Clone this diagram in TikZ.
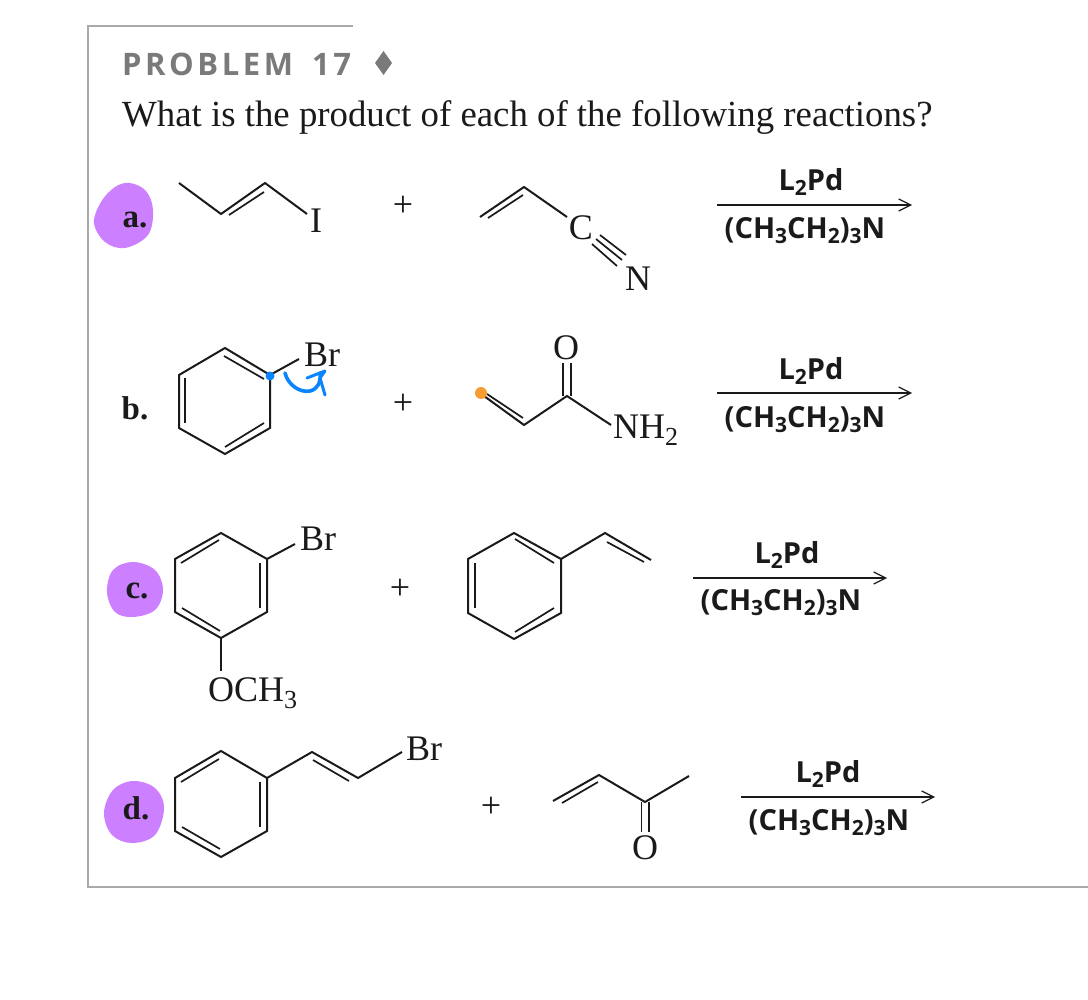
\documentclass[tikz,border=0pt]{standalone}
\usepackage{fontspec}
\setmainfont{Liberation Serif}
\newfontfamily\rxfont{Open Sans}
\newfontfamily\headfont[LetterSpace=11.5]{Open Sans}
\usetikzlibrary{arrows.meta}
\definecolor{blob}{HTML}{CC80FF}
\definecolor{frame}{HTML}{A9A9A9}
\definecolor{headgray}{HTML}{7A7A7A}
\definecolor{ink}{HTML}{1A1A1A}
\definecolor{penblue}{HTML}{0A84FF}
\definecolor{dotor}{HTML}{F79C33}
\newcommand{\atsub}[1]{\raisebox{-7pt}{\fontsize{26}{26}\selectfont #1}}
\newcommand{\rxsub}[1]{\raisebox{-5pt}{\fontsize{21}{21}\selectfont #1}}
\tikzset{
  bond/.style={draw=ink,line width=2pt,line join=miter},
  ibond/.style={draw=ink,line width=1.7pt},
  atom/.style={inner sep=0pt,text=ink,font=\fontsize{36}{36}\selectfont},
  sublabel/.style={inner sep=0pt,text=ink,font=\fontsize{33}{33}\selectfont\bfseries},
  plus/.style={inner sep=0pt,text=ink,font=\fontsize{36}{36}\selectfont},
  rx/.style={inner sep=0pt,text=ink,font=\fontsize{29}{29}\selectfont\rxfont\bfseries},
  rxarrow/.style={draw=ink,line width=1.6pt,-{Straight Barb[length=12pt,width=12pt,line width=1.2pt]}},
  blobfill/.style={fill=blob,draw=none}
}
\begin{document}
\begin{tikzpicture}[x=1pt,y=-1pt]
\useasboundingbox (0,0) rectangle (1088,1000);
% frame
\draw[draw=frame,line width=2pt] (353,26.5) -- (88,26.5) -- (88,887) -- (1088,887);
% heading
\node[anchor=west,inner sep=0pt,text=headgray,font=\fontsize{31}{31}\selectfont\headfont\bfseries] (head) at (122,64) {PROBLEM\hspace{19pt}17};
\fill[headgray] (383.5,51) -- (392,63) -- (383.5,75) -- (375,63) -- cycle;
\node[anchor=west,inner sep=0pt,text=ink,font=\fontsize{36.8}{36.8}\selectfont] (question) at (122,118) {What is the product of each of the following reactions?};
% blobs
\fill[blobfill] plot[smooth cycle,tension=0.6] coordinates {(115,187)(130,183)(146,191)(153,210)(148,235)(125,248)(105,242)(94,223)(101,202)};
\fill[blobfill] plot[smooth cycle,tension=0.6] coordinates {(133,562)(155,570)(163,590)(155,610)(133,617)(115,612)(107,592)(113,570)};
\fill[blobfill] plot[smooth cycle,tension=0.6] coordinates {(133,781)(155,788)(164,808)(155,835)(132,843)(112,835)(104,813)(113,790)};
% labels
\node[sublabel] (la) at (135,220) {a.};
\node[sublabel] (lb) at (135,408) {b.};
\node[sublabel] (lc) at (137,591) {c.};
\node[sublabel] (ld) at (136,808) {d.};
% pluses
\node[plus] (pa) at (403,206) {+};
\node[plus] (pb) at (403,404) {+};
\node[plus] (pc) at (400,589) {+};
\node[plus] (pd) at (491,807) {+};
% a left
\draw[bond] (179,183) -- (221,214) -- (265,183) -- (307,214);
\draw[ibond] (229,215) -- (264,192);
\node[atom] (I) at (316,221) {I};
% a right
\draw[bond] (480,217) -- (524,187) -- (567,217);
\draw[ibond] (488,218) -- (523,195);
\node[atom] (C) at (581,228) {C};
\draw[ibond] (600,235) -- (626,255);
\draw[ibond] (596,239) -- (622,260);
\draw[ibond] (592,244) -- (617,266);
\node[atom] (N) at (638,279) {N};
% b ring
\draw[bond] (225,348) -- (270,375) -- (270,428) -- (225,454) -- (179,428) -- (179,375) -- cycle;
\draw[ibond] (224,356) -- (264,379);
\draw[ibond] (185,378) -- (185,423);
\draw[ibond] (225,447) -- (264,423);
\draw[bond] (270,375) -- (299,359);
\node[atom] (Brb) at (322,355) {Br};
\fill[penblue] (270,376) circle (4.5);
\draw[penblue,line width=3.6pt,line cap=round,line join=round] (285,373) .. controls (288,385) and (300,393) .. (310,391) .. controls (318,389) and (321,382) .. (320,373);
\draw[penblue,line width=3pt,line cap=round,line join=round] (307,378) -- (325,371) -- (320,378) -- (325,395);
% b right
\draw[bond] (484,396) -- (524,425) -- (567,396) -- (611,425);
\draw[ibond] (487,394) -- (523,418);
\draw[ibond] (563,363) -- (563,396);
\draw[ibond] (571,363) -- (571,396);
\fill[dotor] (481,393) circle (6);
\node[atom] (Ob) at (566,348) {O};
\node[atom,anchor=west] (NH) at (613,430) {NH\atsub{2}};
% c left
\draw[bond] (221,533) -- (267,559) -- (267,612) -- (221,638) -- (175,612) -- (175,559) -- cycle;
\draw[ibond] (181,563) -- (219,540);
\draw[ibond] (260,563) -- (260,608);
\draw[ibond] (182,608) -- (220,631);
\draw[bond] (267,559) -- (295,544);
\node[atom] (Brc) at (318,539) {Br};
\draw[bond] (221,638) -- (221,671);
\node[atom,anchor=west] (och) at (208,693) {OCH\atsub{3}};
% c right
\draw[bond] (514,533) -- (561,559) -- (561,613) -- (514,639) -- (468,613) -- (468,559) -- cycle;
\draw[ibond] (515,539) -- (554,563);
\draw[ibond] (475,563) -- (475,608);
\draw[ibond] (515,632) -- (554,608);
\draw[bond] (561,559) -- (605,533) -- (651,560);
\draw[ibond] (607,542) -- (644,562);
% d left
\draw[bond] (221,751) -- (267,778) -- (267,831) -- (221,857) -- (175,831) -- (175,778) -- cycle;
\draw[ibond] (181,782) -- (219,759);
\draw[ibond] (260,782) -- (260,827);
\draw[ibond] (182,827) -- (220,849);
\draw[bond] (267,778) -- (312,752) -- (358,778) -- (402,752);
\draw[ibond] (313,760) -- (349,781);
\node[atom] (Brd) at (424,749) {Br};
% d right
\draw[bond] (553,801) -- (599,775) -- (645,802) -- (689,776);
\draw[ibond] (562,803) -- (598,782);
\draw[ibond] (641.5,802) -- (641.5,832);
\draw[ibond] (649,802) -- (649,832);
\node[atom] (Od) at (645,848) {O};
% reaction arrows
\coordinate (a1) at (717,205); \coordinate (a2) at (912,205);
\draw[rxarrow] (a1) -- (a2);
\node[rx] (ra1) at (811,182) {L\rxsub{2}Pd};
\node[rx] (ra2) at (805,231) {(CH\rxsub{3}CH\rxsub{2})\rxsub{3}N};
\coordinate (b1) at (717,393); \coordinate (b2) at (912,393);
\draw[rxarrow] (b1) -- (b2);
\node[rx] (rb1) at (811,371) {L\rxsub{2}Pd};
\node[rx] (rb2) at (805,420) {(CH\rxsub{3}CH\rxsub{2})\rxsub{3}N};
\coordinate (c1) at (693,578); \coordinate (c2) at (887,578);
\draw[rxarrow] (c1) -- (c2);
\node[rx] (rc1) at (787,555) {L\rxsub{2}Pd};
\node[rx] (rc2) at (781,603) {(CH\rxsub{3}CH\rxsub{2})\rxsub{3}N};
\coordinate (d1) at (741,797); \coordinate (d2) at (935,797);
\draw[rxarrow] (d1) -- (d2);
\node[rx] (rd1) at (828,774) {L\rxsub{2}Pd};
\node[rx] (rd2) at (829,823) {(CH\rxsub{3}CH\rxsub{2})\rxsub{3}N};
\end{tikzpicture}
\end{document}
